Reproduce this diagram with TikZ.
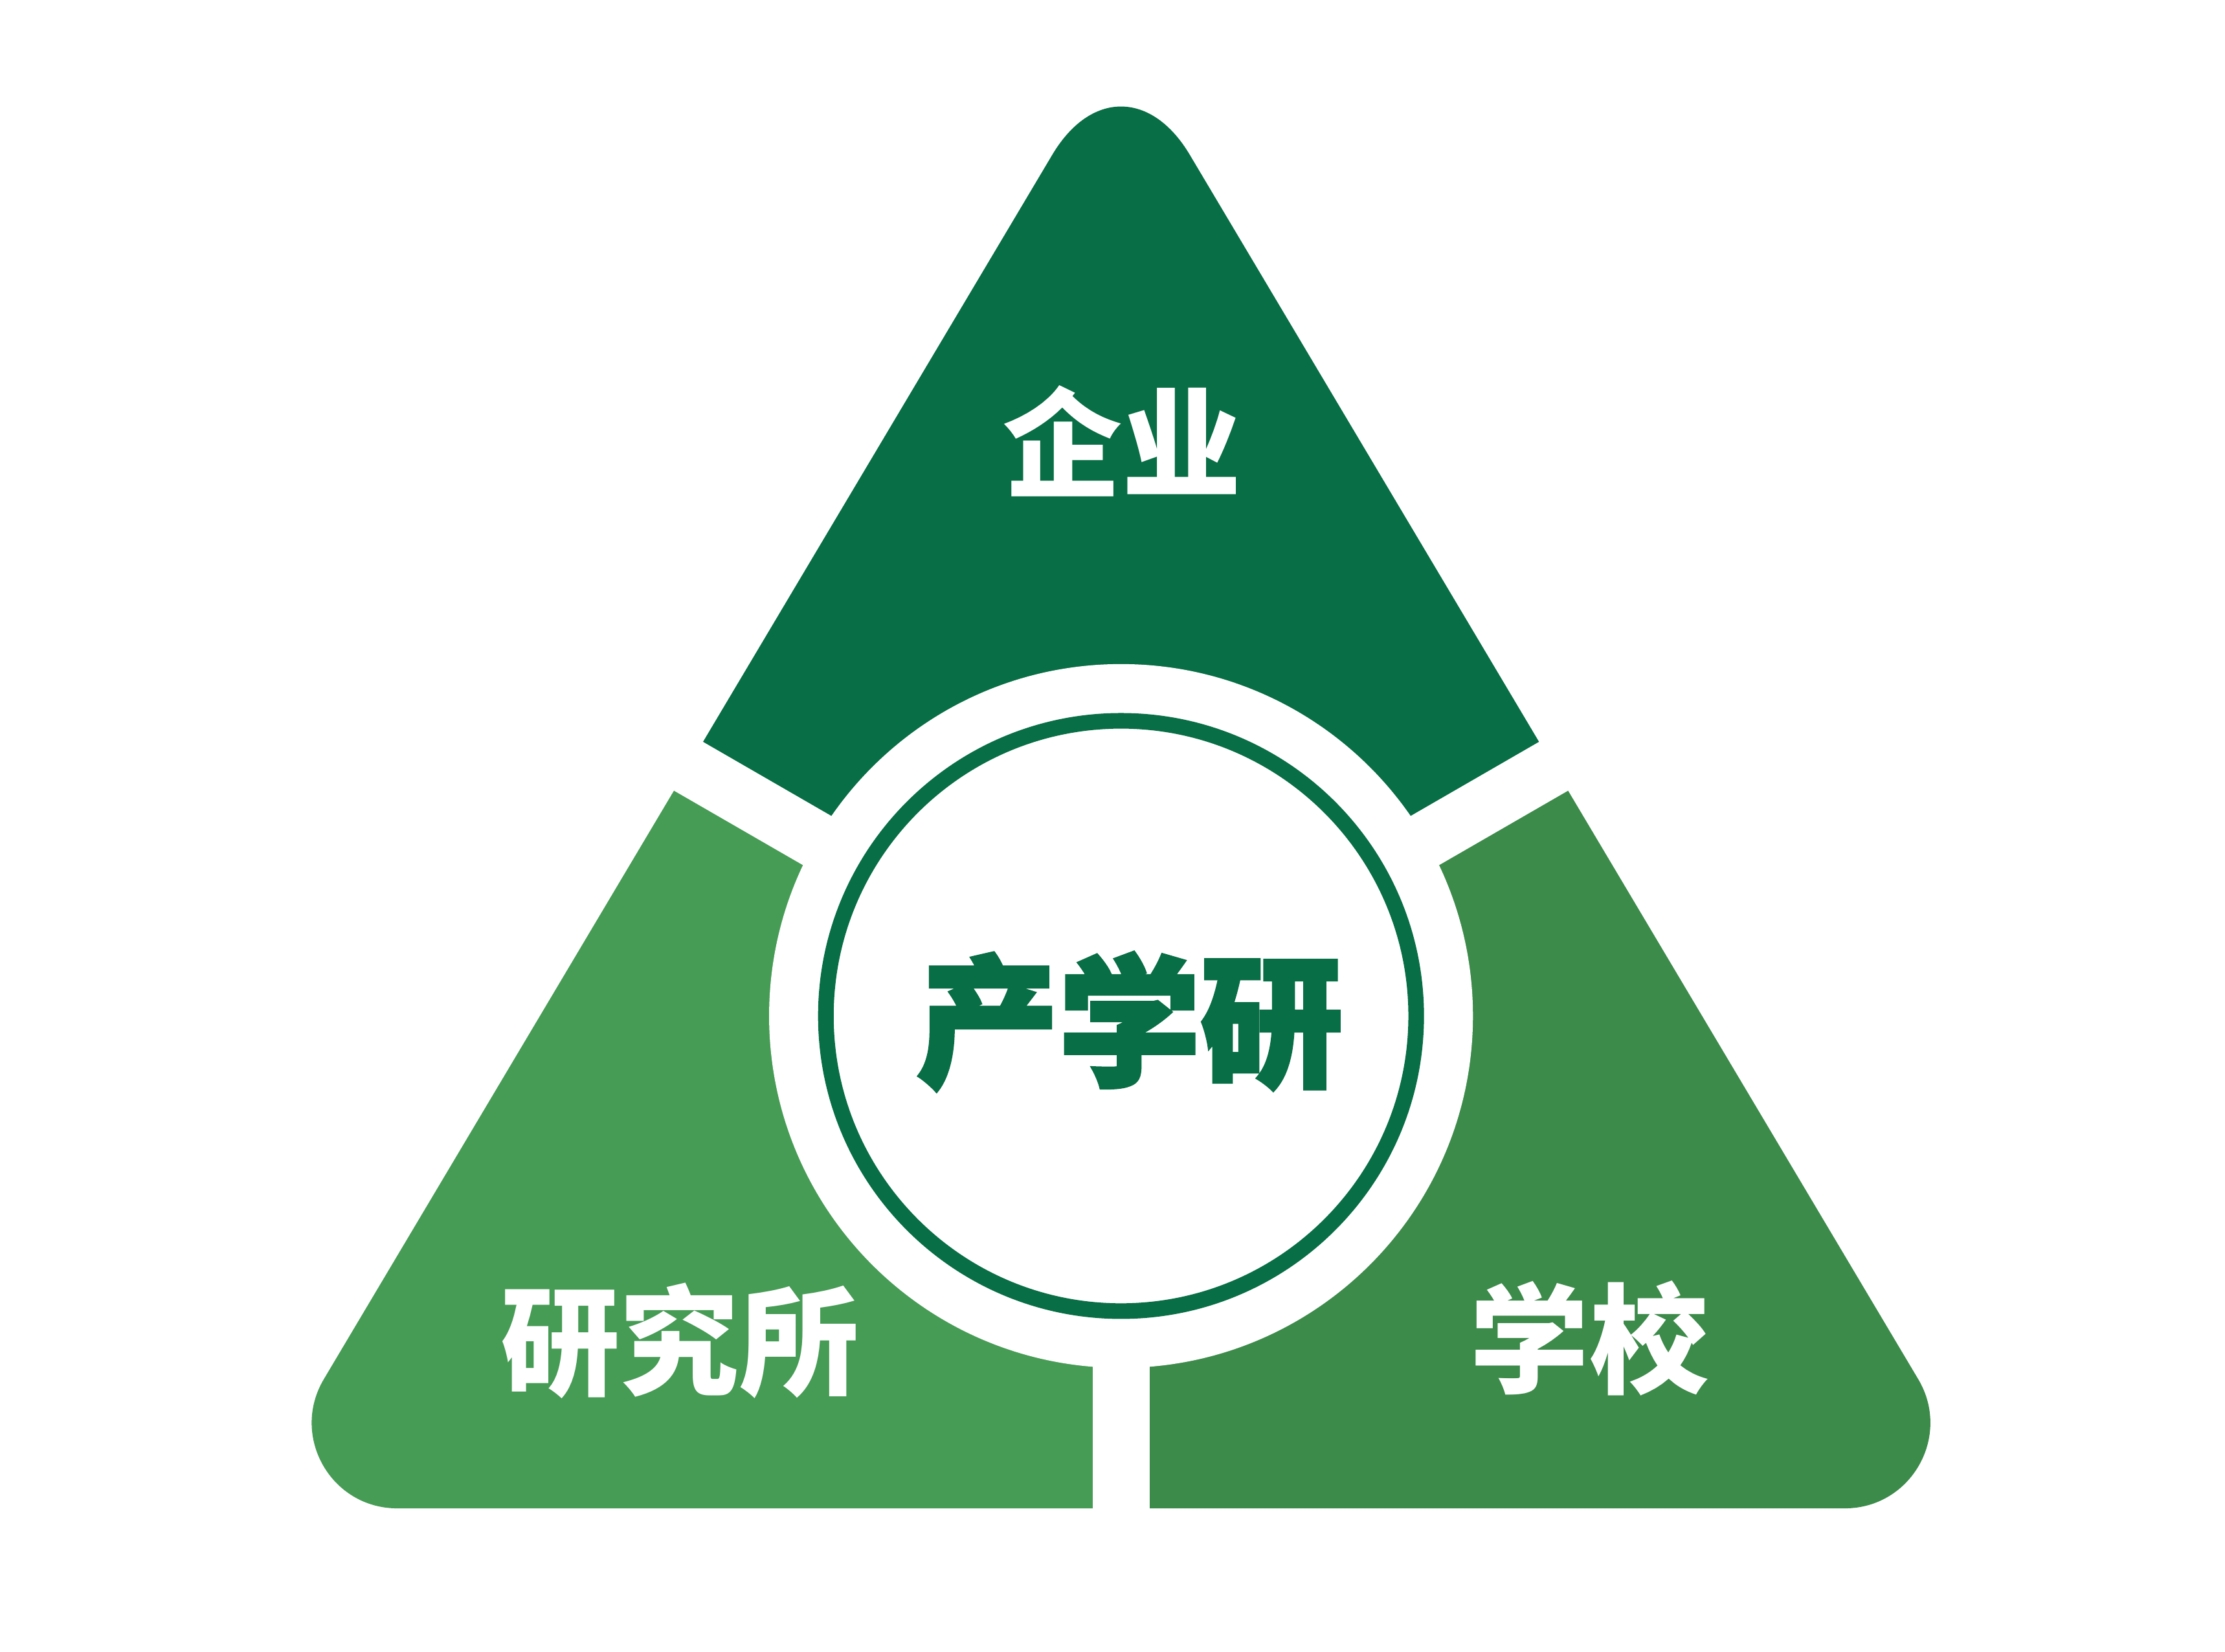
\documentclass[tikz,border=0pt]{standalone}
\usepackage{fontspec}
\newfontfamily\cjk{Noto Sans CJK SC}
\newfontfamily\cjkheavy[BoldFeatures={FakeBold=2.5}]{Noto Sans CJK SC}
\definecolor{topgreen}{HTML}{086E45}
\definecolor{leftgreen}{HTML}{469C55}
\definecolor{rightgreen}{HTML}{3C8B4A}
\tikzset{
  label/.style={text=white, inner sep=0pt, font=\cjk\bfseries\fontsize{84}{90}\selectfont},
  gap/.style={draw=white, line width=40pt, line cap=butt},
}
\begin{document}
\begin{tikzpicture}[x=1pt,y=-1pt]
\useasboundingbox (0,0) rectangle (1568,1163.8);
\fill[white] (0,0) rectangle (1568,1163.8);
\coordinate (C) at (790,716);
\def\tri{(741.5,109.2) .. controls (768.5,63.7) and (811.5,63.7) .. (838.5,109.2) -- (1351.8,972) .. controls (1375.7,1012.1) and (1346.8,1063) .. (1300,1063) -- (280,1063) .. controls (233.2,1063) and (204.3,1012.1) .. (228.2,972) -- cycle}
% top section
\begin{scope}
  \clip (C) -- (-942,-284) -- (-942,-1500) -- (2522,-1500) -- (2522,-284) -- cycle;
  \fill[topgreen] \tri;
\end{scope}
% bottom-left section
\begin{scope}
  \clip (C) -- (-942,-284) -- (-942,1800) -- (790,1800) -- cycle;
  \fill[leftgreen] \tri;
\end{scope}
% bottom-right section
\begin{scope}
  \clip (C) -- (2522,-284) -- (2522,1800) -- (790,1800) -- cycle;
  \fill[rightgreen] \tri;
\end{scope}
% gaps
\coordinate (gl) at (-76,216);
\coordinate (gr) at (1656,216);
\coordinate (gb) at (790,1200);
\draw[gap] (C) -- (gl);
\draw[gap] (C) -- (gr);
\draw[gap] (C) -- (gb);
\fill[white] (C) circle[radius=248];
\draw[topgreen, line width=11pt, fill=white] (C) circle[radius=208];
% labels
\node[label] (qiye) at (791,311) {企业};
\node[label] (yjs) at (479,945) {研究所};
\node[label] (xx) at (1120,943) {学校};
\node[inner sep=0pt, text=topgreen, font=\cjkheavy\bfseries\fontsize{100}{106}\selectfont] (cxy) at (796,720) {产学研};
\end{tikzpicture}
\end{document}
